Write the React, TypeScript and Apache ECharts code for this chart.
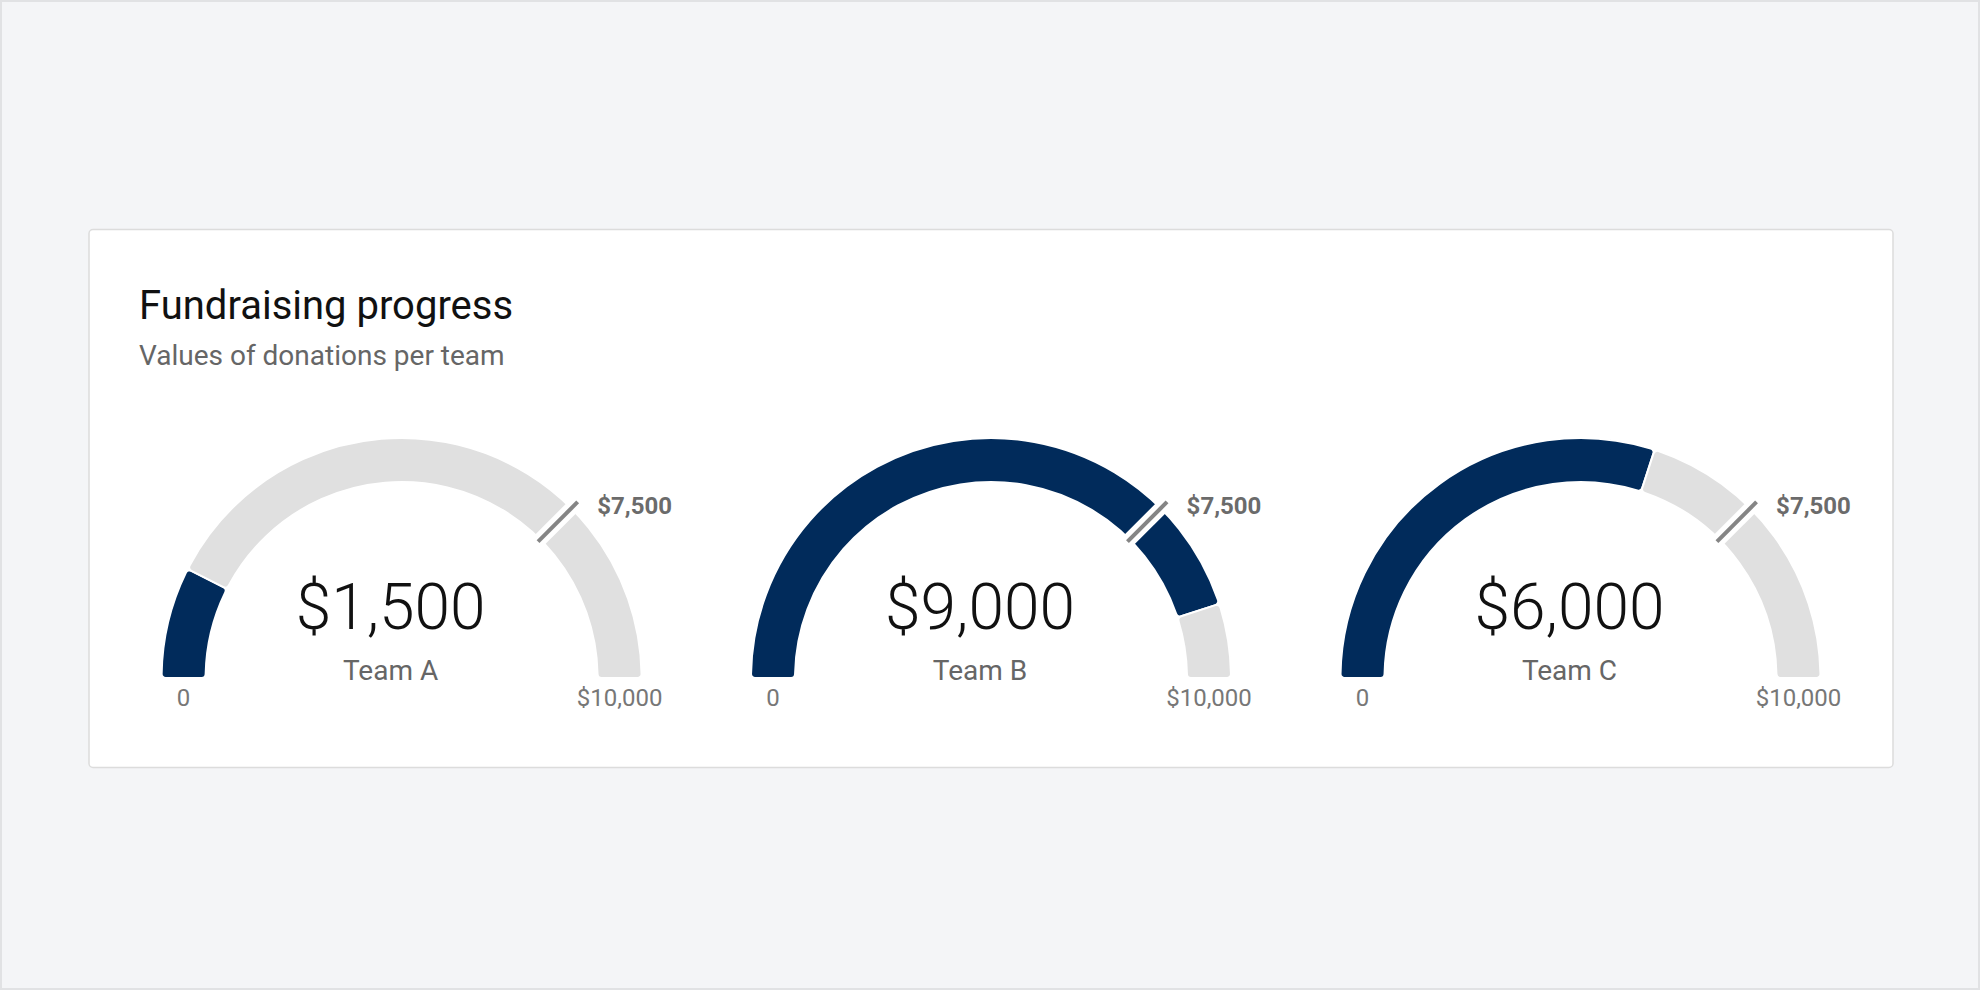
import React, { useEffect, useRef } from "react";
import * as echarts from "echarts";

const teams = ["Team A", "Team B", "Team C"];
const raised = [1500, 9000, 6000];
const goal = 7500;
const maxValue = 10000;

const NAVY = "#012b5b";
const TRACK = "#e0e0e0";
const FONT = "Roboto, 'Noto Sans', sans-serif";

const money = (v: number) => (v === 0 ? "0" : "$" + v.toLocaleString("en-US"));

const centersX = [401.6, 991, 1580.5];
const centerY = 678;
const rOuter = 240;
const rInner = 196;

const App: React.FC = () => {
  const chartRef = useRef<HTMLDivElement>(null);

  useEffect(() => {
    if (!chartRef.current) return;
    const chart = echarts.init(chartRef.current, null, { renderer: "svg" });

    const series: any[] = [];
    teams.forEach((team, i) => {
      const cx = centersX[i];
      const v = raised[i];

      // arc: progress + remaining track, lower half hidden
      series.push({
        type: "pie",
        z: 1,
        silent: true,
        center: [cx, centerY],
        radius: [rInner, rOuter],
        startAngle: 180,
        clockwise: true,
        label: { show: false },
        labelLine: { show: false },
        itemStyle: { borderRadius: 4, borderColor: "#fff", borderWidth: 2 },
        data: [
          { value: v, name: team + " raised", itemStyle: { color: NAVY } },
          { value: maxValue - v, name: team + " remaining", itemStyle: { color: TRACK } },
          {
            value: maxValue,
            name: "hidden",
            itemStyle: { color: "transparent", borderWidth: 0 },
          },
        ],
      });

      // goal marker
      series.push({
        type: "gauge",
        z: 3,
        silent: true,
        center: [cx, centerY],
        radius: rOuter,
        startAngle: 180,
        endAngle: 0,
        min: 0,
        max: maxValue,
        splitNumber: 1,
        axisLine: { show: false },
        axisTick: { show: false },
        splitLine: { show: false },
        axisLabel: { show: false },
        progress: { show: false },
        anchor: { show: false },
        pointer: { show: true, icon: "rect" },
        data: [
          {
            value: goal,
            pointer: { width: 14, length: 58, offsetCenter: [0, -190] },
            itemStyle: { color: "#ffffff" },
            title: { show: false },
            detail: { show: false },
          },
          {
            value: goal,
            pointer: { width: 4, length: 56, offsetCenter: [0, -193] },
            itemStyle: { color: "#858585" },
            title: { show: false },
            detail: {
              show: true,
              offsetCenter: [233, -172],
              formatter: (val: number) => money(val),
              fontFamily: FONT,
              fontSize: 24,
              fontWeight: "bold",
              color: "#6b6b6b",
            },
          },
        ],
      });

      // end labels, value and name
      series.push({
        type: "gauge",
        z: 4,
        silent: true,
        center: [cx, centerY],
        radius: rOuter,
        startAngle: 180,
        endAngle: 0,
        min: 0,
        max: maxValue,
        splitNumber: 1,
        axisLine: { show: false },
        axisTick: { show: false },
        splitLine: { show: false, length: 0, distance: 0 },
        axisLabel: {
          show: true,
          distance: -43,
          lineHeight: 40,
          fontFamily: FONT,
          fontSize: 24,
          color: "#777777",
          formatter: (val: number) => "\n{t|" + money(val) + "}",
          rich: {
            t: {
              width: 130,
              align: "center",
              lineHeight: 40,
              fontFamily: FONT,
              fontSize: 24,
              color: "#777777",
            },
          },
        },
        progress: { show: false },
        pointer: { show: false },
        anchor: { show: false },
        title: {
          offsetCenter: [-11, -8],
          fontFamily: FONT,
          fontSize: 28,
          color: "#666666",
        },
        detail: {
          offsetCenter: [-11, -71],
          fontFamily: FONT,
          fontSize: 64,
          fontWeight: 300,
          color: "#111111",
          formatter: (val: number) => money(val),
        },
        data: [{ value: v, name: team }],
      });
    });

    const option: echarts.EChartsOption = {
      animation: false,
      backgroundColor: "#f4f5f7",
      graphic: [
        {
          type: "rect",
          z: -10,
          shape: { x: 1, y: 1, width: 1978, height: 988 },
          style: { fill: "#f4f5f7", stroke: "#e1e2e4", lineWidth: 2 },
        },
        {
          type: "rect",
          z: -9,
          shape: { x: 89, y: 229.5, width: 1804, height: 538, r: 4 },
          style: { fill: "#ffffff", stroke: "#dcdcdc", lineWidth: 1.5 },
        },
      ],
      title: {
        text: "Fundraising progress",
        subtext: "Values of donations per team",
        left: 134,
        top: 278,
        itemGap: 12,
        textStyle: {
          fontFamily: FONT,
          fontSize: 40,
          fontWeight: "normal",
          color: "#111111",
          lineHeight: 44,
        },
        subtextStyle: {
          fontFamily: FONT,
          fontSize: 28,
          color: "#666666",
          lineHeight: 32,
        },
      },
      series,
    };

    chart.setOption(option);

    return () => {
      chart.dispose();
    };
  }, []);

  return (
    <div
      ref={chartRef}
      style={{ position: "fixed", left: 0, top: 0, width: "1980px", height: "990px" }}
    />
  );
};

export default App;
